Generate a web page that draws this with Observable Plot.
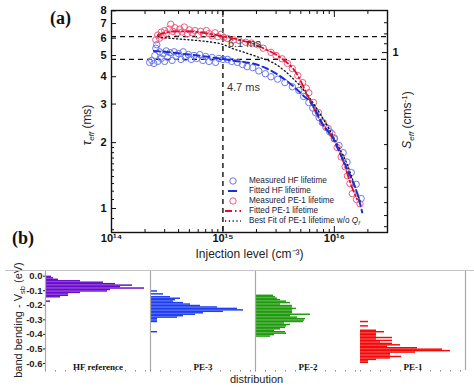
<!DOCTYPE html>
<html><head><meta charset="utf-8">
<script src="https://cdn.jsdelivr.net/npm/d3@7"></script>
<script src="https://cdn.jsdelivr.net/npm/@observablehq/plot@0.6"></script>
<style>
body{margin:0;background:#fff;font-family:"Liberation Sans",Arial,sans-serif;}
#root{position:relative;width:474px;height:387px;overflow:hidden;background:#fff;}
#pa{position:absolute;left:0;top:0;}
#pb{position:absolute;left:0;top:255px;}
.lbl{position:absolute;white-space:nowrap;}
.panel{font-family:"Liberation Serif","Times New Roman",serif;font-weight:bold;font-size:18px;color:#111;}
#sep{position:absolute;left:5px;top:270px;width:469px;height:0;border-top:1px solid #c4c4c4;}
#legend{position:absolute;left:225px;top:175.5px;font-size:8.2px;color:#22223a;line-height:10.1px;}
#legend .row{display:flex;align-items:center;height:10.1px;}
#legend svg{width:20px;height:10px;margin-right:4px;flex:none;}
</style></head><body><div id="root">
<div id="pa"></div><div id="pb"></div>
<div id="sep"></div>
<div class="lbl panel" style="left:50px;top:8px;">(a)</div>
<div class="lbl panel" style="left:12px;top:228px;">(b)</div>
<div class="lbl" style="left:230px;top:373px;font-size:11px;color:#222;">distribution</div>
<div id="legend"></div>
</div>
<script>
// ---------- Panel (a): lifetime vs injection level ----------
const hfInj = [2.2e14,2.3e14,2.4e14,2.45e14,2.5e14,2.55e14,2.6e14,2.7e14,2.8e14,2.9e14,3.0e14,3.1e14,3.2e14,3.35e14,3.5e14,3.65e14,3.8e14,4.0e14,4.2e14,4.4e14,4.6e14,4.9e14,5.2e14,5.5e14,5.8e14,6.2e14,6.6e14,7.0e14,7.5e14,8.0e14,8.6e14,9.2e14,
  1.0e15,1.1e15,1.2e15,1.35e15,1.5e15,1.65e15,1.85e15,2.1e15,2.4e15,2.7e15,3.1e15,3.6e15,4.2e15,4.8e15,5.3e15,5.9e15,6.4e15,6.8e15,7.3e15,7.8e15,8.4e15,9.1e15,1.0e16,1.1e16,1.2e16,1.3e16,1.42e16,1.57e16,1.74e16];
const hfTau = [4.65,4.75,4.6,5.0,5.4,5.6,4.7,5.2,4.85,5.1,4.7,5.25,4.9,5.15,4.75,5.2,4.95,5.1,4.8,5.2,4.9,5.05,4.8,5.0,4.85,5.05,4.75,4.95,4.7,4.9,4.65,4.85,
  4.8,4.8,4.7,4.65,4.55,4.45,4.4,4.25,4.13,4.0,3.9,3.76,3.6,3.46,3.25,3.05,2.88,2.74,2.6,2.47,2.35,2.24,2.08,1.94,1.8,1.63,1.46,1.29,1.11];

const pe1Inj = [2.5e14,2.6e14,2.7e14,2.8e14,2.9e14,3.0e14,3.1e14,3.3e14,3.4e14,3.55e14,3.7e14,3.9e14,4.1e14,4.3e14,4.5e14,4.8e14,5.0e14,5.3e14,5.6e14,6.0e14,6.3e14,6.7e14,7.1e14,7.5e14,8.0e14,8.5e14,9.0e14,9.6e14,
  1.02e15,1.1e15,1.25e15,1.4e15,1.6e15,1.8e15,2.05e15,2.3e15,2.7e15,3.0e15,3.4e15,3.8e15,4.2e15,4.7e15,5.2e15,5.6e15,5.9e15,6.5e15,7.2e15,7.95e15,8.8e15,9.5e15,1.0e16,1.06e16,1.15e16,1.25e16,1.31e16,1.38e16,1.45e16,1.58e16,1.7e16];
const pe1Tau = [5.9,6.2,6.0,6.4,6.15,6.5,6.3,6.6,6.95,6.45,6.7,6.35,6.6,6.4,6.75,6.3,6.55,6.35,6.5,6.2,6.45,6.25,6.5,6.3,6.15,6.35,6.1,6.25,
  6.05,5.98,5.9,5.85,5.75,5.7,5.6,5.4,5.17,5.0,4.83,4.6,4.36,4.05,3.76,3.55,3.38,3.05,2.74,2.47,2.32,2.2,2.1,1.9,1.72,1.55,1.41,1.3,1.17,1.1,1.05];

const fitHfInj = [2.4e14,3e14,4e14,5e14,6e14,7e14,8e14,1e15,1.3e15,1.85e15,2.5e15,3.2e15,4.2e15,5.2e15,6.3e15,7.9e15,9.6e15,1.18e16,1.4e16,1.6e16,1.78e16];
const fitHfTau = [5.25,5.2,5.12,5.05,5.0,4.95,4.9,4.82,4.72,4.6,4.35,4.05,3.65,3.3,3.0,2.42,2.12,1.69,1.4,1.18,0.96];

const fitPeInj = [2.6e14,3e14,4e14,5e14,6e14,8e14,1e15,1.3e15,1.8e15,2.4e15,3.4e15,4.5e15,5.9e15,7.9e15,1e16,1.2e16,1.4e16,1.6e16];
const fitPeTau = [6.2,6.35,6.45,6.45,6.4,6.25,6.12,5.95,5.7,5.35,4.83,4.2,3.2,2.4,2.05,1.65,1.3,1.1];

const noQfInj = [2.8e14,4e14,6e14,8e14,1e15,1.2e15,1.5e15,2e15,3e15,4.2e15,5.5e15,7e15,9e15,1.1e16,1.3e16,1.5e16,1.7e16];
const noQfTau = [6.05,5.95,5.85,5.75,5.62,5.4,5.2,4.95,4.55,3.95,3.4,2.85,2.3,1.9,1.6,1.3,1.08];

const refTau = [6.1, 4.8];
const refInj = [1e15];
const annotText = ["6.1 ms", "4.7 ms"];

const xMajorTicks = [1e14, 1e15, 1e16];
const xMinorTicks = [2e14,3e14,4e14,5e14,6e14,7e14,8e14,9e14,2e15,3e15,4e15,5e15,6e15,7e15,8e15,9e15,2e16,3e16];
const yMajorTicks = [1,2,3,4,5,6,7,8];
const yMinorTicks = [0.8,0.9,1.1,1.2,1.3,1.4,1.5,1.6,1.7,1.8,1.9];
// Right axis S_eff (log, inverted relative to tau)
const sMajorTicks = [1];
const sMinorTicks = [0.7,0.8,0.9,2,3,4,5,6,7,8];
const tauAtS1 = 5.157, sExponent = 0.881;
const sToTau = s => tauAtS1 * Math.pow(s, -sExponent);
const sMajorTau = sMajorTicks.map(sToTau);
const sLabel = d => { const i = sMajorTau.findIndex(t => Math.abs(t - d) < 1e-6); return i >= 0 ? String(sMajorTicks[i]) : ""; };

const sup = {"0":"⁰","1":"¹","2":"²","3":"³","4":"⁴","5":"⁵","6":"⁶","7":"⁷","8":"⁸","9":"⁹"};
const fmtPow = d => "10" + String(Math.round(Math.log10(d))).split("").map(c => sup[c]).join("");

const hfRows = hfInj.map((x, i) => ({x, y: hfTau[i]}));
const peRows = pe1Inj.map((x, i) => ({x, y: pe1Tau[i]}));
const lineRows = (xs, ys) => xs.map((x, i) => ({x, y: ys[i]}));

const plotA = Plot.plot({
  width: 474, height: 265,
  marginLeft: 111, marginRight: 87, marginTop: 10, marginBottom: 33,
  style: {fontFamily: "'Liberation Sans', Arial, sans-serif", fontSize: "10px", color: "#111", background: "transparent"},
  x: {type: "log", domain: [1e14, 3e16], axis: null},
  y: {type: "log", domain: [0.777, 8.03], axis: null},
  marks: [
    Plot.ruleY(refTau, {stroke: "#111", strokeWidth: 1.2, strokeDasharray: "5,4"}),
    Plot.ruleX(refInj, {stroke: "#111", strokeWidth: 1.4, strokeDasharray: "5,4"}),
    Plot.dot(peRows, {x: "x", y: "y", r: 3.2, stroke: "#ef5a82", strokeWidth: 1, fill: "none"}),
    Plot.dot(hfRows, {x: "x", y: "y", r: 3.2, stroke: "#6a78ee", strokeWidth: 1, fill: "none"}),
    Plot.line(lineRows(noQfInj, noQfTau), {x: "x", y: "y", stroke: "#111", strokeWidth: 1.3, strokeDasharray: "1.2,2.6", curve: "monotone-x"}),
    Plot.line(lineRows(fitPeInj, fitPeTau), {x: "x", y: "y", stroke: "#e0102c", strokeWidth: 1.8, strokeDasharray: "7,3,1.5,3", curve: "monotone-x"}),
    Plot.line(lineRows(fitHfInj, fitHfTau), {x: "x", y: "y", stroke: "#1a2fd8", strokeWidth: 2, strokeDasharray: "6,4", curve: "monotone-x"}),
    Plot.text([annotText[0]], {x: refInj[0], y: refTau[0], dx: 5, dy: 7, textAnchor: "start", fontSize: 11, fill: "#333"}),
    Plot.text([annotText[1]], {x: refInj[0], y: refTau[1], dx: 4, dy: 28, textAnchor: "start", fontSize: 11, fill: "#333"}),
    Plot.frame({stroke: "#111", strokeWidth: 1.4}),
    Plot.axisX({ticks: xMajorTicks, tickFormat: fmtPow, tickSize: -6, tickPadding: 8, fontWeight: "bold", fontSize: 11, label: null}),
    Plot.axisX({ticks: xMinorTicks, tickFormat: () => "", tickSize: -3, label: null}),
    Plot.axisX({anchor: "top", ticks: xMajorTicks, tickFormat: () => "", tickSize: -6, label: null}),
    Plot.axisX({anchor: "top", ticks: xMinorTicks, tickFormat: () => "", tickSize: -3, label: null}),
    Plot.axisY({ticks: yMajorTicks, tickFormat: d => String(d), tickSize: -5, tickPadding: 10, fontWeight: "bold", fontSize: 11, label: null}),
    Plot.axisY({ticks: yMinorTicks, tickFormat: () => "", tickSize: -3, label: null}),
    Plot.axisY({anchor: "right", ticks: sMajorTau, tickFormat: sLabel, tickSize: -6, tickPadding: 11, fontWeight: "bold", fontSize: 11, label: null}),
    Plot.axisY({anchor: "right", ticks: sMinorTicks.map(sToTau), tickFormat: () => "", tickSize: -4, label: null}),
    Plot.text(["Injection level (cm⁻³)"], {frameAnchor: "bottom", dy: 25, fontSize: 12, fill: "#222"})
  ]
});
document.getElementById("pa").appendChild(plotA);

// axis titles with subscripts
const svgA = d3.select(plotA);
const tl = svgA.append("text").attr("transform", "translate(91,125) rotate(-90)")
  .attr("text-anchor", "middle").attr("font-size", 12).attr("fill", "#222");
tl.append("tspan").attr("font-style", "italic").text("τ");
tl.append("tspan").attr("font-style", "italic").attr("font-size", 8).attr("dy", 3).text("eff");
tl.append("tspan").attr("dy", -3).text(" (ms)");
const tr = svgA.append("text").attr("transform", "translate(411,120) rotate(-90)")
  .attr("text-anchor", "middle").attr("font-size", 12).attr("fill", "#222");
tr.append("tspan").attr("font-style", "italic").text("S");
tr.append("tspan").attr("font-style", "italic").attr("font-size", 8).attr("dy", 3).text("eff");
tr.append("tspan").attr("dy", -3).text(" (cms");
tr.append("tspan").attr("font-size", 8).attr("dy", -4).text("-1");
tr.append("tspan").attr("dy", 4).text(")");

// legend
const legendItems = [
  {label: "Measured HF lifetime", kind: "circle", color: "#6a78ee"},
  {label: "Fitted HF lifetime", kind: "dash", color: "#1a2fd8"},
  {label: "Measured PE-1 lifetime", kind: "circle", color: "#ef5a82"},
  {label: "Fitted PE-1 lifetime", kind: "dashdot", color: "#e0102c"},
  {label: "Best Fit of PE-1 lifetime w/o ", kind: "dot", color: "#111", q: true}
];
const lg = document.getElementById("legend");
legendItems.forEach(it => {
  const row = document.createElement("div"); row.className = "row";
  let sw;
  if (it.kind === "circle") sw = `<circle cx="8" cy="5" r="3.2" fill="none" stroke="${it.color}"/>`;
  else if (it.kind === "dash") sw = `<line x1="3" x2="12" y1="5" y2="5" stroke="${it.color}" stroke-width="2"/>`;
  else if (it.kind === "dashdot") sw = `<line x1="0" x2="16" y1="5" y2="5" stroke="${it.color}" stroke-width="1.8" stroke-dasharray="7,3,1.5,3"/>`;
  else sw = `<line x1="0" x2="16" y1="5" y2="5" stroke="${it.color}" stroke-width="1.3" stroke-dasharray="1.2,2.6"/>`;
  row.innerHTML = `<svg viewBox="0 0 20 10">${sw}</svg><span>${it.label}${it.q ? '<i>Q</i><span style="font-size:6px;font-style:italic;position:relative;top:2px">f</span>' : ''}</span>`;
  lg.appendChild(row);
});

// ---------- Panel (b): band bending distributions ----------
const facetNames = ["HF reference", "PE-3", "PE-2", "PE-1"];
const facetColors = ["#6a0acc", "#1f3ef0", "#1e9a0c", "#f20a0a"];
const binWidth = 0.01;
const hfBinTop = [0,-0.01,-0.02,-0.03,-0.04,-0.05,-0.06,-0.07,-0.08,-0.09,-0.10,-0.11,-0.12,-0.13,-0.14,-0.17];
const hfCount = [6,8,13,35,58,70,87,75,99,65,62,35,23,23,15,5];
const pe3BinTop = [-0.10,-0.12,-0.14,-0.15,-0.16,-0.17,-0.18,-0.19,-0.20,-0.21,-0.22,-0.23,-0.24,-0.25,-0.26,-0.27,-0.28,-0.29,-0.30,-0.31,-0.38];
const pe3Count = [7,13,20,30,25,23,33,40,50,67,87,93,73,53,45,33,27,7,7,7,7];
const pe2BinTop = [-0.13,-0.14,-0.15,-0.16,-0.17,-0.18,-0.19,-0.20,-0.21,-0.22,-0.23,-0.24,-0.25,-0.26,-0.27,-0.28,-0.29,-0.30,-0.31,-0.32,-0.33,-0.34,-0.35,-0.36,-0.37,-0.38,-0.39,-0.40,-0.41];
const pe2Count = [18,20,22,25,31,35,25,37,37,41,37,37,37,55,35,42,50,49,48,29,35,31,30,25,19,30,31,19,15];
const pe1BinTop = [-0.31,-0.34,-0.37,-0.38,-0.39,-0.40,-0.41,-0.42,-0.43,-0.44,-0.45,-0.46,-0.47,-0.48,-0.49,-0.50,-0.51,-0.52,-0.53,-0.54,-0.55,-0.56,-0.57,-0.58,-0.59];
const pe1Count = [8,8,16,24,16,16,16,32,16,32,20,32,40,27,57,82,90,55,30,30,41,30,16,8,8];
const vTicks = [0,-0.1,-0.2,-0.3,-0.4,-0.5,-0.6];
const distMax = 105;

const binSets = [[hfBinTop, hfCount], [pe3BinTop, pe3Count], [pe2BinTop, pe2Count], [pe1BinTop, pe1Count]];
const histRows = [];
binSets.forEach(([tops, counts], k) => tops.forEach((t, i) => histRows.push({facet: facetNames[k], top: t, count: counts[i]})));

const plotB = Plot.plot({
  width: 474, height: 132,
  marginLeft: 45, marginRight: 9, marginTop: 16, marginBottom: 17,
  style: {fontFamily: "'Liberation Sans', Arial, sans-serif", fontSize: "9px", color: "#222", background: "transparent"},
  fx: {domain: facetNames, padding: 0, axis: null},
  x: {domain: [0, distMax], axis: null},
  y: {domain: [-0.648, 0.032], axis: null},
  color: {domain: facetNames, range: facetColors},
  marks: [
    Plot.rect(histRows, {fx: "facet", x1: d => 0, x2: "count", y1: "top", y2: d => d.top - binWidth, fill: "facet"}),
    Plot.ruleX(facetNames.slice(0, 3), {fx: d => d, x: d => 0, stroke: "#a8a8a8", strokeWidth: 1.2}),
    Plot.ruleX(facetNames.slice(3), {fx: d => d, x: d => distMax, stroke: "#a8a8a8", strokeWidth: 1.2}),
    Plot.axisY({ticks: vTicks, tickFormat: d => d.toFixed(1), tickSize: 2, tickPadding: 1, fontWeight: "bold", fontSize: 9.5, label: null}),
    Plot.axisX({ticks: 10, tickFormat: () => "", tickSize: 1.5, stroke: "#888", label: null}),
    Plot.text(facetNames, {fx: d => d, text: d => d, frameAnchor: "bottom", lineAnchor: "bottom", dy: -1, fontFamily: "'Liberation Serif', 'Times New Roman', serif", fontWeight: "bold", fontSize: 9, fill: "#111"})
  ]
});
document.getElementById("pb").appendChild(plotB);
const svgB = d3.select(plotB);
const bl = svgB.append("text").attr("transform", "translate(22,65) rotate(-90)")
  .attr("text-anchor", "middle").attr("font-size", 11).attr("fill", "#222");
bl.append("tspan").text("band bending - V");
bl.append("tspan").attr("font-size", 7.5).attr("dy", 3).text("sb");
bl.append("tspan").attr("dy", -3).text(" (eV)");
</script>
</body></html>
